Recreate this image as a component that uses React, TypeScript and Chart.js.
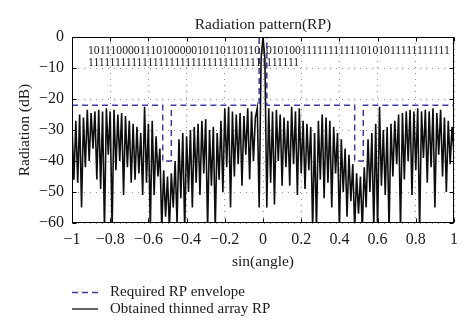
import { useEffect, useRef } from "react";
import { Chart, registerables } from "chart.js";

Chart.register(...registerables);

const FONT = "'Liberation Serif', 'Times New Roman', serif";

const TITLE = "Radiation pattern(RP)";
const X_LABEL = "sin(angle)";
const Y_LABEL = "Radiation (dB)";
const LEGEND_ENVELOPE = "Required RP envelope";
const LEGEND_PATTERN = "Obtained thinned array RP";
const BITS_ROW1 = "1011100001110100000101101101101010100111111111110101011111111111";
const BITS_ROW2 = "111111111111111111111111111111111111111";

// sampled pattern: sin(angle) from -1 in steps of 0.01
const SIN_START = -1;
const SIN_STEP = 0.01;
// -1.00 ... 0.00
const RP_LEFT_DB = [
  -29, -46, -27, -47, -25, -55, -26, -42, -23.5, -40,
  -24.5, -36, -24, -46, -23.5, -49, -24, -62, -23, -38,
  -24, -62, -23.5, -43, -25, -40, -24.5, -51, -25.5, -42,
  -27, -47, -28, -46, -29, -44, -31, -51, -22.5, -47,
  -28, -62, -27, -51, -32, -45, -36, -62, -43, -58,
  -45, -62, -44, -55, -40, -60, -33, -52, -31, -62,
  -32, -50, -30, -55, -29, -47, -28, -51, -27, -44,
  -26.5, -62, -30, -48, -29, -62, -31, -46, -27, -50,
  -23, -42, -22.5, -55, -24, -45, -25, -41, -24.5, -48,
  -25.5, -38, -23, -46, -24, -40, -26, -23, -55, -7,
  0,
];
// 0.01 ... 1.00
const RP_RIGHT_DB = [
  -7, -55, -23, -47, -24, -54, -23.5, -40, -25, -48,
  -26, -42, -27, -48, -22.5, -41, -24, -51, -23, -44,
  -27, -49, -28, -43, -29, -62, -31, -62, -27, -46,
  -25, -52, -26, -47, -27, -55, -29, -44, -31, -62,
  -33, -50, -36, -58, -38, -53, -41, -62, -44, -57,
  -45, -62, -42, -55, -33, -50, -31, -62, -28, -62,
  -22.5, -48, -30, -51, -29, -62, -28, -45, -27, -41,
  -25, -62, -24.5, -46, -24, -40, -23.5, -51, -24, -43,
  -23, -62, -24, -39, -23.5, -47, -24, -42, -23, -55,
  -24.5, -38, -23.5, -45, -26, -50, -27, -41, -29, -38,
];

const ENVELOPE_SIN = [-1, -0.525, -0.525, -0.48, -0.48, -0.02, -0.02, 0.02, 0.02, 0.48, 0.48, 0.525, 0.525, 1];
const ENVELOPE_DB = [-22, -22, -40, -40, -22, -22, 0, 0, -22, -22, -40, -40, -22, -22];

const ENVELOPE_COLOR = "#3b3ba3";
const TEXT_COLOR = "#1a1a1a";

const fmt = (v: number) => {
  const r = Math.round(v * 10) / 10;
  return r < 0 ? "\u2212" + String(Math.abs(r)) : String(Math.abs(r));
};

const overlay = {
  id: "overlay",
  afterDatasetsDraw(chart: any) {
    const { ctx, chartArea: a, scales } = chart;
    ctx.save();
    ctx.strokeStyle = "#000";
    ctx.lineWidth = 1;
    ctx.setLineDash([]);
    const L = Math.round(a.left) + 0.5;
    const T = Math.round(a.top) + 0.5;
    const R = Math.round(a.right) - 0.5;
    const B = Math.round(a.bottom) - 0.5;
    ctx.strokeRect(L, T, R - L, B - T);
    ctx.beginPath();
    for (const t of scales.x.ticks) {
      const px = Math.round(scales.x.getPixelForValue(t.value)) + 0.5;
      ctx.moveTo(px, B);
      ctx.lineTo(px, B - 4);
      ctx.moveTo(px, T);
      ctx.lineTo(px, T + 4);
    }
    for (const t of scales.y.ticks) {
      const py = Math.round(scales.y.getPixelForValue(t.value)) + 0.5;
      ctx.moveTo(L, py);
      ctx.lineTo(L + 4, py);
      ctx.moveTo(R, py);
      ctx.lineTo(R - 4, py);
    }
    ctx.stroke();
    ctx.restore();
  },
  afterDraw(chart: any) {
    const { ctx, chartArea: a } = chart;
    ctx.save();
    ctx.fillStyle = TEXT_COLOR;
    ctx.textBaseline = "middle";
    // title
    ctx.font = `15.5px ${FONT}`;
    ctx.textAlign = "center";
    ctx.fillText(TITLE, (a.left + a.right) / 2, 25);
    // bit strings
    ctx.textAlign = "left";
    ctx.font = `10px ${FONT}`;
    const w = ctx.measureText(BITS_ROW1).width;
    const size = (10 * 362) / w;
    ctx.font = `${size.toFixed(2)}px ${FONT}`;
    ctx.fillText(BITS_ROW1, a.left + 16, 51);
    ctx.fillText(BITS_ROW2, a.left + 16, 62.5);
    // legend
    ctx.font = `15px ${FONT}`;
    ctx.strokeStyle = ENVELOPE_COLOR;
    ctx.lineWidth = 1.5;
    ctx.setLineDash([6, 4]);
    ctx.beginPath();
    ctx.moveTo(72, 292.5);
    ctx.lineTo(98, 292.5);
    ctx.stroke();
    ctx.setLineDash([]);
    ctx.strokeStyle = "#000";
    ctx.lineWidth = 1.2;
    ctx.beginPath();
    ctx.moveTo(72, 309);
    ctx.lineTo(98, 309);
    ctx.stroke();
    ctx.fillText(LEGEND_ENVELOPE, 110, 292);
    ctx.fillText(LEGEND_PATTERN, 110, 309);
    ctx.restore();
  },
};

export default function App() {
  const ref = useRef<HTMLCanvasElement>(null);
  useEffect(() => {
    const rp = [...RP_LEFT_DB, ...RP_RIGHT_DB].map((y, i) => ({ x: SIN_START + i * SIN_STEP, y }));
    const env = ENVELOPE_SIN.map((x, i) => ({ x, y: ENVELOPE_DB[i] }));
    const tickFont = { family: FONT, size: 16 };
    const titleFont = { family: FONT, size: 15.5 };
    const chart = new Chart(ref.current!, {
      type: "line",
      data: {
        datasets: [
          {
            label: LEGEND_ENVELOPE,
            data: env,
            borderColor: ENVELOPE_COLOR,
            borderWidth: 1.5,
            borderDash: [6, 4],
            pointRadius: 0,
            fill: false,
          },
          {
            label: LEGEND_PATTERN,
            data: rp,
            borderColor: "#0d0d0d",
            borderWidth: 1.6,
            pointRadius: 0,
            fill: false,
          },
        ],
      },
      options: {
        animation: false,
        responsive: false,
        events: [],
        layout: { padding: { top: 37, right: 20, bottom: 62, left: 0 } },
        plugins: { legend: { display: false }, title: { display: false }, tooltip: { enabled: false } },
        elements: { line: { tension: 0 } },
        scales: {
          x: {
            type: "linear",
            min: -1,
            max: 1,
            ticks: { stepSize: 0.2, padding: 7, color: TEXT_COLOR, font: tickFont, maxRotation: 0, autoSkip: false, callback: (v: any) => fmt(Number(v)) },
            grid: { color: "#7a7a7a", lineWidth: 0.8, drawTicks: false },
            border: { display: false, dash: [1, 5] },
            title: { display: true, text: X_LABEL, color: TEXT_COLOR, font: titleFont, padding: { top: 0, bottom: 2 } },
            afterFit: (s: any) => {
              s.height = 50;
              s.paddingLeft = 0;
              s.paddingRight = 0;
            },
          },
          y: {
            type: "linear",
            min: -60,
            max: 0,
            ticks: { stepSize: 10, padding: 8, color: TEXT_COLOR, font: tickFont, callback: (v: any) => fmt(Number(v)) },
            grid: { color: "#7a7a7a", lineWidth: 0.8, drawTicks: false },
            border: { display: false, dash: [1, 5] },
            title: { display: true, text: Y_LABEL, color: TEXT_COLOR, font: titleFont, padding: { top: 16, bottom: 0 } },
            afterFit: (s: any) => {
              s.width = 72;
              s.paddingTop = 0;
              s.paddingBottom = 0;
            },
          },
        },
      },
      plugins: [overlay],
    } as any);
    return () => chart.destroy();
  }, []);
  return (
    <div style={{ position: "absolute", left: 0, top: 0, width: 474, height: 335, background: "#fff" }}>
      <canvas ref={ref} width={474} height={335} style={{ display: "block", width: 474, height: 335 }} />
    </div>
  );
}
